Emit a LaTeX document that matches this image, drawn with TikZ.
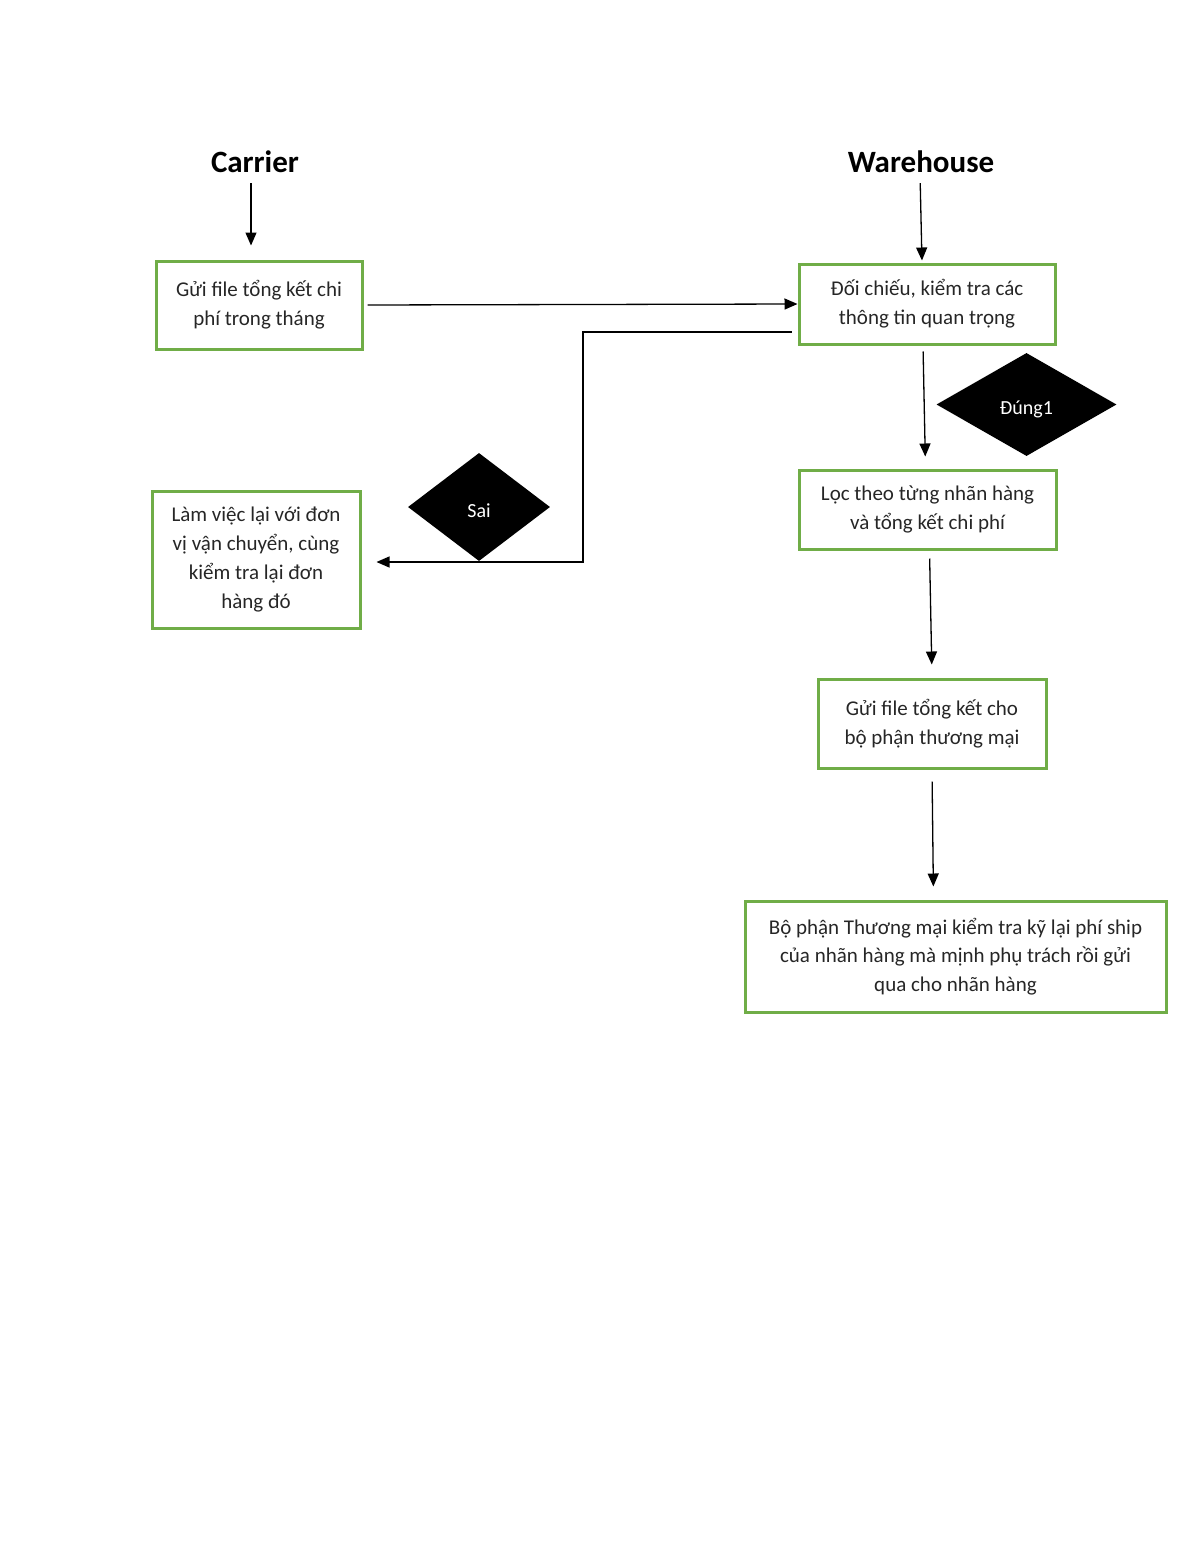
\documentclass[tikz,border=0pt]{standalone}
\usepackage{fontspec}
\setmainfont{Carlito}
\usetikzlibrary{shapes.geometric,arrows.meta,calc}
\definecolor{boxgreen}{HTML}{70AD47}
\begin{document}
\begin{tikzpicture}[x=1pt,y=-1pt,
  stepbox/.style={draw=boxgreen,line width=3pt,align=center,inner sep=0pt,
    font=\fontsize{21}{28.7}\selectfont,text=black!85},
  title/.style={font=\bfseries\fontsize{31}{36}\selectfont,inner sep=0pt},
  decision/.style={diamond,fill=black,text=white,inner sep=0pt,
    text height=20pt,text depth=0pt,font=\fontsize{20}{24}\selectfont},
  arr/.style={line width=1.3pt,-{Triangle[length=13pt,width=11pt]}},
  ln/.style={line width=1.3pt}]
\useasboundingbox (0,0) rectangle (1200,1553);
\node[title] (carrier) at (255,162) {Carrier};
\node[title] (warehouse) at (921,162) {Warehouse};
\node[stepbox,minimum width=206,minimum height=88] (b1) at (259,305) {Gửi file tổng kết chi\\phí trong tháng};
\node[stepbox,minimum width=256,minimum height=80] (b2) at (927,304) {Đối chiếu, kiểm tra các\\thông tin quan trọng};
\node[stepbox,minimum width=208,minimum height=137] (b3) at (256,559.5) {Làm việc lại với đơn\\vị vận chuyển, cùng\\kiểm tra lại đơn\\hàng đó};
\node[stepbox,minimum width=257,minimum height=79] (b4) at (927.5,509.5) {Lọc theo từng nhãn hàng\\và tổng kết chi phí};
\node[stepbox,minimum width=228,minimum height=89] (b5) at (932,723.5) {Gửi file tổng kết cho\\bộ phận thương mại};
\node[stepbox,minimum width=421,minimum height=111] (b6) at (955.5,956.5) {Bộ phận Thương mại kiểm tra kỹ lại phí ship\\của nhãn hàng mà mịnh phụ trách rồi gửi\\qua cho nhãn hàng};
\node[decision,minimum width=142,minimum height=108] (sai) at (479,507) {Sai};
\node[decision,minimum width=180,minimum height=103] (dung) at (1026.5,404.5) {Đúng1};
\coordinate (c1) at (583,332);
\draw[arr,shorten <=10pt,shorten >=14pt] ([xshift=-4pt]carrier.south) -- ([xshift=-8pt]b1.north);
\draw[arr,shorten <=10pt,shorten >=2pt] ([xshift=-1pt]warehouse.south) -- ([xshift=-5pt]b2.north);
\draw[arr,shorten <=4pt] (b1.east) -- (b2.west);
\draw[arr,shorten >=15pt] ([xshift=-6pt,yshift=-28pt]b2.west) -- (c1) |- ([yshift=-2.5pt]b3.east);
\draw[arr,shorten <=6pt,shorten >=12pt] ([xshift=-4pt]b2.south) -- ([xshift=-2pt]b4.north);
\draw[arr,shorten <=8pt,shorten >=13pt] ([xshift=2pt]b4.south) -- (b5.north);
\draw[arr,shorten <=12pt,shorten >=13pt] (b5.south) -- ([xshift=-22pt]b6.north);
\end{tikzpicture}
\end{document}
